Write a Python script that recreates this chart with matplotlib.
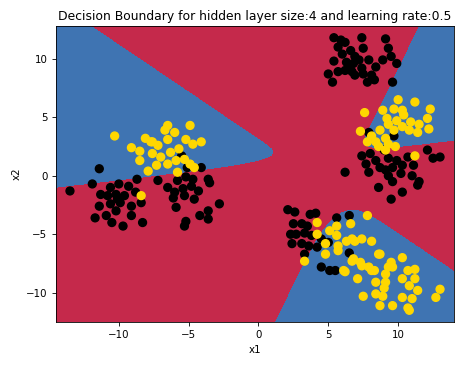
import numpy as np
import matplotlib
matplotlib.use("Agg")
import matplotlib.pyplot as plt
from matplotlib.colors import ListedColormap

# class 0 (black) points
x_black = [5.4, 5.9, 6.2, 7.4, 7.5, 5.7, 6.6, 6.0, 6.9, 5.4, 6.3, 6.8, 7.2, 7.9, 8.9,
           9.3, 9.5, 9.9, 9.1, 8.4, 6.2, 6.7, 7.4, 7.5, 8.1, 8.3, 5.0, 5.7, 5.3, 6.9,
           7.8, 9.6, 6.5,
           7.9, 9.7, 9.0, 7.4, 8.0, 7.7, 8.4, 9.3, 9.9, 10.7, 12.1, 12.5, 7.9, 8.7,
           9.6, 10.3, 11.1, 9.3, 10.2, 11.0, 9.6, 11.5, 8.6, 10.3, 11.4, 9.5, 9.1,
           6.2, 13.0,
           -11.4, -13.5, -11.9, -11.3, -10.6, -10.0, -9.3, -8.7, -7.2, -6.5, -10.8,
           -10.2, -9.6, -8.8, -11.4, -10.6, -9.9, -9.1, -8.4, -11.7, -10.9, -10.2,
           -9.1, -10.5, -9.7, -8.3, -10.1,
           -5.5, -5.1, -4.1, -5.8, -5.2, -4.7, -3.6, -3.5, -6.0, -5.4, -4.8, -4.3,
           -6.1, -5.3, -4.6, -5.9, -2.8, -3.6, -4.2, -3.6, -5.2, -5.3,
           2.1, 2.6, 3.7, 4.1, 2.5, 3.1, 3.5, 2.3, 2.7, 3.3, 3.8, 2.4, 3.1, 3.6, 4.2,
           3.3, 4.5, 5.0, 5.6, 6.5, 6.5, 4.5, 5.1, 5.5]
y_black = [11.8, 11.6, 11.4, 11.8, 10.9, 11.0, 10.7, 10.4, 10.2, 9.8, 9.7, 9.6, 9.9, 9.9, 9.9,
           10.9, 10.2, 9.6, 11.7, 9.3, 9.0, 8.9, 9.2, 8.7, 8.6, 8.2, 8.7, 8.9, 8.0, 8.6,
           8.0, 8.0, 9.4,
           3.7, 3.4, 2.2, 1.7, 1.9, 1.0, 1.3, 1.5, 1.3, 1.6, 2.2, 1.5, 0.3, 0.7,
           0.7, 0.9, 0.9, 0.0, 0.2, 0.0, -0.5, -0.5, -1.0, -1.4, -0.8, -2.0, 0.5,
           0.3, 1.6,
           0.6, -1.3, -0.7, -1.6, -1.0, -0.7, -0.9, -0.3, -0.4, -1.0, -1.7,
           -1.6, -1.7, -1.4, -2.6, -2.4, -2.3, -2.6, -2.3, -3.6, -3.4, -3.0,
           -3.4, -4.0, -4.3, -4.0, -2.0,
           1.7, 0.7, 0.7, -0.4, -0.1, -0.3, -0.3, -0.6, -1.4, -1.1, -0.9, -1.3,
           -1.9, -1.7, -2.0, -2.7, -2.4, -3.0, -3.4, -3.7, -3.9, -4.3,
           -2.9, -3.1, -3.3, -3.2, -4.1, -4.1, -4.3, -5.0, -5.0, -4.9, -5.1, -5.8, -5.8, -6.0, -6.1,
           -6.7, -5.4, -5.7, -3.6, -3.4, -6.6, -7.8, -8.1, -8.1]

# class 1 (yellow) points
x_gold = [7.6, 10.0, 11.2, 12.3, 8.9, 9.7, 10.3, 10.4, 9.2, 9.9, 10.9, 11.5, 12.1, 12.2,
          9.3, 10.3, 10.8, 11.4, 8.7, 9.7, 7.3, 8.1, 9.1, 7.8, 8.4, 9.3, 9.8, 11.2,
          8.6, 9.1,
          -10.3, -9.1, -8.5, -8.1, -7.7, -7.2, -7.6, -8.5, -7.0, -7.3, -7.9, -6.7,
          -6.5, -8.4, -6.5, -6.0, -4.9, -5.2, -4.7, -4.1, -6.3, -5.7, -5.9, -5.3,
          -4.9, -6.5, -5.8, -4.6, -7.6,
          4.2, 4.2, 5.6, 5.1, 5.6, 6.6, 7.8, 6.7, 7.4, 8.1, 4.8, 5.7, 4.8, 5.7, 6.7,
          7.4, 3.3, 6.1, 8.6, 8.1,
          6.3, 6.9, 6.8, 7.3, 7.9, 8.7, 9.5, 10.3, 9.6, 6.2, 7.1, 8.3, 9.1, 10.7,
          11.2, 9.1, 8.4, 10.3, 11.2, 10.8, 9.0, 11.4, 7.5, 8.4, 8.9, 10.3, 11.0,
          8.7, 9.6, 10.7, 10.8, 12.7, 13.0, 9.3]
y_gold = [5.4, 6.5, 6.3, 5.7, 5.6, 5.7, 5.6, 5.2, 4.9, 4.7, 4.6, 4.4, 4.9, 4.0,
          4.4, 4.2, 3.9, 3.7, 3.9, 3.9, 3.8, 3.4, 3.2, 2.9, 2.9, 2.7, 2.5, 1.7,
          2.5, 2.2,
          3.4, 2.4, 2.1, 3.2, 2.9, 2.6, 1.9, 1.3, 1.6, 0.9, 0.4, 3.9,
          3.1, -1.7, 4.3, 3.7, 4.3, 3.1, 2.7, 2.9, 2.0, 2.3, 1.3, 1.4,
          1.0, 1.0, 0.3, 0.7, 2.9,
          -4.0, -5.0, -4.3, -4.7, -5.1, -4.1, -3.4, -5.4, -5.4, -5.6, -5.8, -6.0, -6.7, -6.4, -7.3,
          -7.7, -7.3, -8.1, -6.7, -8.1,
          -5.6, -5.6, -7.1, -7.4, -7.8, -6.7, -7.4, -7.0, -7.8, -8.2, -8.8, -8.1, -8.4, -8.1,
          -8.0, -9.1, -9.1, -8.8, -8.8, -9.4, -9.6, -9.8, -10.3, -10.1, -10.3, -10.4, -10.5,
          -11.1, -11.1, -11.3, -11.5, -10.4, -9.7, -7.8]

# trained network parameters (4 hidden tanh units, one output)
W1 = np.array([[-0.28, 1.98],
               [0.70, -0.285],
               [0.25, 0.31],
               [0.00, 0.00]])
b1 = np.array([-2.12, -4.43, -0.96, 0.0])
W2 = np.array([1.0, 1.0, -1.0, 0.0])
b2 = 0.0

red = "#c5294b"
blue = "#3f74b2"


def predict(pts):
    hidden = np.tanh(pts @ W1.T + b1)
    return (hidden @ W2 + b2 > 0).astype(int)


X = np.column_stack([np.concatenate([x_black, x_gold]),
                     np.concatenate([y_black, y_gold])])
labels = np.array([0] * len(x_black) + [1] * len(x_gold))

x_min, x_max = X[:, 0].min() - 1, X[:, 0].max() + 1
y_min, y_max = X[:, 1].min() - 1, X[:, 1].max() + 1
h = 0.02
xx, yy = np.meshgrid(np.arange(x_min, x_max, h), np.arange(y_min, y_max, h))
Z = predict(np.c_[xx.ravel(), yy.ravel()]).reshape(xx.shape)

fig = plt.figure(figsize=(4.74, 3.65), dpi=100)
ax = fig.add_axes([56 / 474, 43 / 365, 398 / 474, 296 / 365])
ax.contourf(xx, yy, Z, levels=[-0.5, 0.5, 1.5], colors=[red, blue])
ax.scatter(X[:, 0], X[:, 1], c=labels, cmap=ListedColormap(["black", "gold"]),
           s=32, zorder=3)
ax.set_xlim(x_min, x_max)
ax.set_ylim(y_min, y_max)
ax.set_xticks([-10, -5, 0, 5, 10])
ax.set_yticks([-10, -5, 0, 5, 10])
ax.tick_params(labelsize=7.4, length=2.6, width=0.6)
for sp in ax.spines.values():
    sp.set_linewidth(0.6)
ax.set_xlabel("x1", fontsize=7.4, labelpad=3)
ax.set_ylabel("x2", fontsize=7.4, labelpad=3)
ax.set_title("Decision Boundary for hidden layer size:4 and learning rate:0.5",
             fontsize=8.9, pad=4.5)

fig.savefig("out.png", dpi=100)
